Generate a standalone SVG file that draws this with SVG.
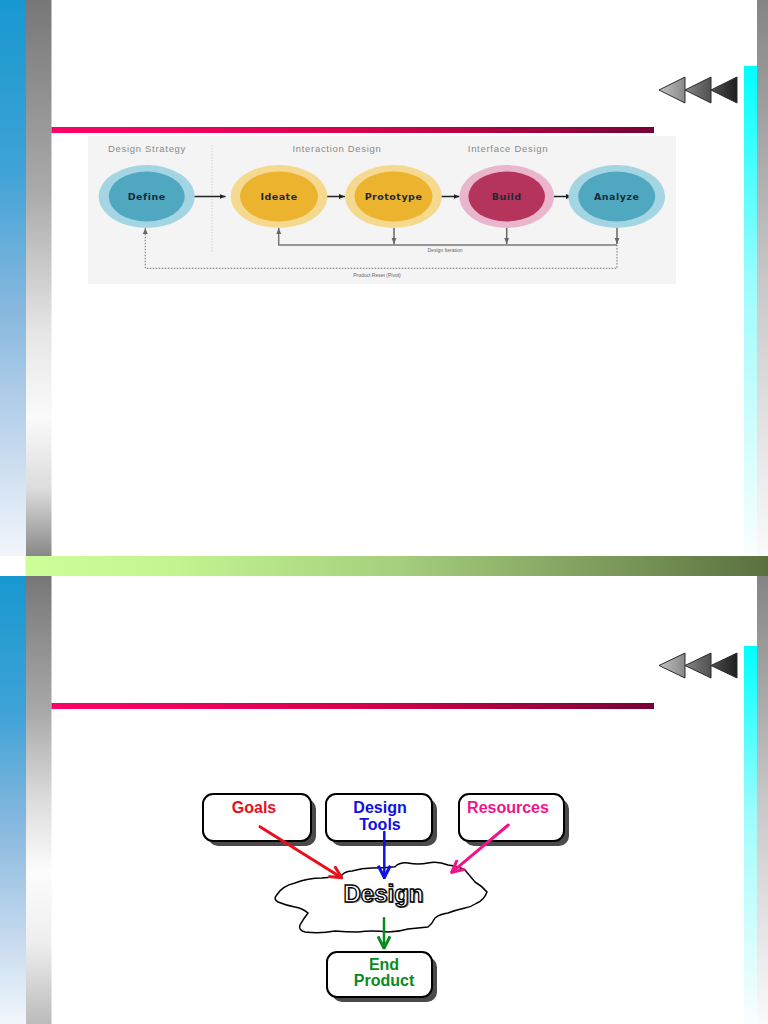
<svg xmlns="http://www.w3.org/2000/svg" width="768" height="1024" viewBox="0 0 768 1024">
<defs>
<linearGradient id="blueV" x1="0" y1="0" x2="0" y2="1">
<stop offset="0" stop-color="#1898d0"/><stop offset="0.3" stop-color="#3ea2d6"/><stop offset="0.55" stop-color="#86b7de"/><stop offset="0.8" stop-color="#c4d8ee"/><stop offset="1" stop-color="#f2f6fb"/>
</linearGradient>
<linearGradient id="grayTop" x1="0" y1="0" x2="0" y2="1">
<stop offset="0" stop-color="#777"/><stop offset="0.35" stop-color="#ababab"/><stop offset="0.6" stop-color="#e6e6e6"/><stop offset="0.75" stop-color="#fafafa"/><stop offset="0.88" stop-color="#dcdcdc"/><stop offset="1" stop-color="#888"/>
</linearGradient>
<linearGradient id="grayBot" x1="0" y1="0" x2="0" y2="1">
<stop offset="0" stop-color="#777"/><stop offset="0.3" stop-color="#a8a8a8"/><stop offset="0.5" stop-color="#dcdcdc"/><stop offset="0.66" stop-color="#fcfcfc"/><stop offset="0.82" stop-color="#eeeeee"/><stop offset="1" stop-color="#bbb"/>
</linearGradient>
<linearGradient id="grayR" x1="0" y1="0" x2="0" y2="1">
<stop offset="0" stop-color="#858585"/><stop offset="0.5" stop-color="#c8c8c8"/><stop offset="1" stop-color="#fafafa"/>
</linearGradient>
<linearGradient id="cyanV" x1="0" y1="0" x2="0" y2="1">
<stop offset="0" stop-color="#00ffff"/><stop offset="0.45" stop-color="#9ffcfc"/><stop offset="1" stop-color="#fafefe"/>
</linearGradient>
<linearGradient id="pinkH" x1="0" y1="0" x2="1" y2="0">
<stop offset="0" stop-color="#ff0066"/><stop offset="0.5" stop-color="#d8004e"/><stop offset="1" stop-color="#780034"/>
</linearGradient>
<linearGradient id="greenH" x1="0" y1="0" x2="1" y2="0">
<stop offset="0" stop-color="#ccff99"/><stop offset="0.2" stop-color="#c2f490"/><stop offset="0.5" stop-color="#a6cf7e"/><stop offset="0.8" stop-color="#7b985a"/><stop offset="1" stop-color="#5a7040"/>
</linearGradient>
<linearGradient id="triG" gradientUnits="userSpaceOnUse" x1="659" y1="0" x2="737" y2="0">
<stop offset="0" stop-color="#c4c4c4"/><stop offset="0.5" stop-color="#6a6a6a"/><stop offset="1" stop-color="#1e1e1e"/>
</linearGradient>
<marker id="ahBlack" viewBox="0 0 10 10" refX="10" refY="5" markerWidth="6" markerHeight="6" markerUnits="userSpaceOnUse" orient="auto"><path d="M0,1 L10,5 L0,9 Z" fill="#222"/></marker>
<marker id="ahGray" viewBox="0 0 10 10" refX="10" refY="5" markerWidth="6" markerHeight="6" markerUnits="userSpaceOnUse" orient="auto"><path d="M0,1 L10,5 L0,9 Z" fill="#666"/></marker>
<marker id="ahRed" viewBox="0 0 14 14" refX="13" refY="7" markerWidth="14" markerHeight="14" markerUnits="userSpaceOnUse" orient="auto"><path d="M1,1 L13,7 L1,13" fill="none" stroke="#e8101c" stroke-width="3"/></marker>
<marker id="ahBlue" viewBox="0 0 14 14" refX="13" refY="7" markerWidth="14" markerHeight="14" markerUnits="userSpaceOnUse" orient="auto"><path d="M1,1 L13,7 L1,13" fill="none" stroke="#1010e0" stroke-width="3"/></marker>
<marker id="ahPink" viewBox="0 0 14 14" refX="13" refY="7" markerWidth="14" markerHeight="14" markerUnits="userSpaceOnUse" orient="auto"><path d="M1,1 L13,7 L1,13" fill="none" stroke="#f0148c" stroke-width="3"/></marker>
<marker id="ahGreen" viewBox="0 0 14 14" refX="13" refY="7" markerWidth="14" markerHeight="14" markerUnits="userSpaceOnUse" orient="auto"><path d="M1,1 L13,7 L1,13" fill="none" stroke="#0a8a1e" stroke-width="3"/></marker>
</defs>
<style>
.sec{font-family:"Liberation Sans",Arial,sans-serif;font-size:9.5px;fill:#8a8a8a;letter-spacing:0.7px;text-anchor:middle}
.node{font-family:"DejaVu Sans","Liberation Sans",sans-serif;font-weight:bold;font-size:9.5px;fill:#1c2a38;text-anchor:middle;letter-spacing:0.5px}
.tiny{font-family:"Liberation Sans",Arial,sans-serif;font-size:5px;fill:#666;text-anchor:middle}
.box{fill:#fff;stroke:#000;stroke-width:2}
.shadow{fill:#4a4a4a}
.lbl{font-family:"Liberation Sans",Arial,sans-serif;font-weight:bold;font-size:16px;text-anchor:middle}
.tri{fill:url(#triG);stroke:#2a2a2a;stroke-width:1}
</style>
<rect width="768" height="1024" fill="#fff"/>

<!-- slide frame top -->
<g id="frame-top">
<rect x="0" y="0" width="26" height="556" fill="url(#blueV)"/>
<rect x="26" y="0" width="25.5" height="556" fill="url(#grayTop)"/>
<rect x="757" y="0" width="11" height="556" fill="url(#grayR)"/>
<rect x="744" y="66" width="13" height="490" fill="url(#cyanV)"/>
<rect x="51.5" y="127" width="602.5" height="6" fill="url(#pinkH)"/>
<polygon class="tri" points="659,90 685,77 685,103"/>
<polygon class="tri" points="685,90 711,77 711,103"/>
<polygon class="tri" points="711,90 737,77 737,103"/>
</g>

<!-- divider -->
<rect id="green-bar" x="25.5" y="556" width="742.5" height="20" fill="url(#greenH)"/>

<!-- slide frame bottom -->
<g id="frame-bottom">
<rect x="0" y="576" width="26" height="448" fill="url(#blueV)"/>
<rect x="26" y="576" width="25.5" height="448" fill="url(#grayBot)"/>
<rect x="757" y="576" width="11" height="448" fill="url(#grayR)"/>
<rect x="744" y="646" width="13" height="378" fill="url(#cyanV)"/>
<rect x="51.5" y="703" width="602.5" height="6" fill="url(#pinkH)"/>
<polygon class="tri" points="659,665.5 685,653 685,678"/>
<polygon class="tri" points="685,665.5 711,653 711,678"/>
<polygon class="tri" points="711,665.5 737,653 737,678"/>
</g>

<!-- top process diagram -->
<g id="process">
<rect x="88" y="136" width="588" height="148" fill="#f4f4f4"/>
<text class="sec" x="147" y="152">Design Strategy</text>
<text class="sec" x="337" y="152">Interaction Design</text>
<text class="sec" x="508" y="152">Interface Design</text>
<line x1="212" y1="145" x2="212" y2="253" stroke="#cfcfcf" stroke-width="1" stroke-dasharray="1.5,1.5"/>
</g>
<g id="connectors-top" fill="none">
<line x1="185" y1="196.5" x2="225.5" y2="196.5" stroke="#222" stroke-width="1.5" marker-end="url(#ahBlack)"/>
<line x1="317" y1="196.5" x2="345" y2="196.5" stroke="#222" stroke-width="1.5" marker-end="url(#ahBlack)"/>
<line x1="433" y1="196.5" x2="459.5" y2="196.5" stroke="#222" stroke-width="1.5" marker-end="url(#ahBlack)"/>
<line x1="545" y1="196.5" x2="572" y2="196.5" stroke="#222" stroke-width="1.5" marker-end="url(#ahBlack)"/>
<line x1="394" y1="228" x2="394" y2="244" stroke="#666" stroke-width="1.5" marker-end="url(#ahGray)"/>
<line x1="506.7" y1="228" x2="506.7" y2="244" stroke="#666" stroke-width="1.5" marker-end="url(#ahGray)"/>
<line x1="617" y1="228" x2="617" y2="244" stroke="#666" stroke-width="1.5" marker-end="url(#ahGray)"/>
<path d="M617,245 H278.7 V228" stroke="#777" stroke-width="1.5" marker-end="url(#ahGray)"/>
<path d="M617,245 V268.3 H145.3 V228" stroke="#888" stroke-width="1.2" stroke-dasharray="1.5,1.5" marker-end="url(#ahGray)"/>
<text class="tiny" x="445" y="252">Design Iteration</text>
<text class="tiny" x="377" y="277">Product Reset (Pivot)</text>
</g>
<g id="node-define">
<ellipse cx="146.7" cy="196.5" rx="48" ry="31.5" fill="#a4d5e2"/>
<ellipse cx="146.7" cy="196.5" rx="38" ry="25" fill="#4fa8bf"/>
<text class="node" x="146.7" y="200">Define</text>
</g>
<g id="node-ideate">
<ellipse cx="279" cy="196.5" rx="48.3" ry="31.5" fill="#f4d98f"/>
<ellipse cx="279" cy="196.5" rx="39" ry="25" fill="#ecb32f"/>
<text class="node" x="279" y="200">Ideate</text>
</g>
<g id="node-prototype">
<ellipse cx="393.5" cy="196.5" rx="48.3" ry="31.5" fill="#f4d98f"/>
<ellipse cx="393.5" cy="196.5" rx="39" ry="25" fill="#ecb32f"/>
<text class="node" x="393.5" y="200">Prototype</text>
</g>
<g id="node-build">
<ellipse cx="506.7" cy="196.5" rx="47.3" ry="31.5" fill="#e9b6cd"/>
<ellipse cx="506.7" cy="196.5" rx="38.3" ry="25" fill="#b5345b"/>
<text class="node" x="506.7" y="200">Build</text>
</g>
<g id="node-analyze">
<ellipse cx="616.7" cy="196.5" rx="48.3" ry="31.5" fill="#a4d5e2"/>
<ellipse cx="616.7" cy="196.5" rx="38.5" ry="25" fill="#4fa8bf"/>
<text class="node" x="616.7" y="200">Analyze</text>
</g>

<!-- bottom design diagram -->
<g id="node-goals">
<rect class="shadow" x="208" y="799" width="108" height="47" rx="10"/>
<rect class="box" x="203" y="794" width="108" height="47" rx="10"/>
<text class="lbl" x="254" y="813" fill="#e8101c">Goals</text>
</g>
<g id="node-tools">
<rect class="shadow" x="331" y="799" width="106" height="47" rx="10"/>
<rect class="box" x="326" y="794" width="106" height="47" rx="10"/>
<text class="lbl" x="380" y="813" fill="#1010e0">Design</text>
<text class="lbl" x="380" y="830" fill="#1010e0">Tools</text>
</g>
<g id="node-resources">
<rect class="shadow" x="464" y="799" width="105" height="47" rx="10"/>
<rect class="box" x="459" y="794" width="105" height="47" rx="10"/>
<text class="lbl" x="508" y="813" fill="#f0148c">Resources</text>
</g>
<g id="node-end">
<rect class="shadow" x="332" y="957" width="105" height="45" rx="10"/>
<rect class="box" x="327" y="952" width="105" height="45" rx="10"/>
<text class="lbl" x="384" y="970" fill="#0a8a1e">End</text>
<text class="lbl" x="384" y="986" fill="#0a8a1e">Product</text>
</g>
<g id="node-design">
<path d="M276.7,895 Q282,886 295,883 Q308,878 322,878 Q334,877 342,875 Q346,871 352,871 Q362,868 372,868 Q384,868 395,866.7 Q400,862 408,863 Q418,865 428,863 Q438,861 448,865 Q458,866 465,870 Q470,876 475,882 Q482,886 487,892 Q484,900 477,903 Q471,907 465,908 Q456,910 448,913 Q440,914 435,918 Q432,924 428,927 Q418,928 408,929 Q398,932 388,932 Q372,930 358,932 Q346,932 335,931 Q320,934 305,932 Q298,930 300,925 Q304,918 308,913 Q302,908 295,907 Q285,905 278,902 Q273,899 276.7,895 Z" fill="#fff" stroke="#000" stroke-width="1.5"/>
<text x="385" y="903" font-family="Liberation Sans,Arial,sans-serif" font-weight="bold" font-size="24" text-anchor="middle" fill="#888">Design</text>
<text x="383.5" y="901.5" font-family="Liberation Sans,Arial,sans-serif" font-weight="bold" font-size="24" text-anchor="middle" fill="#fff" stroke="#000" stroke-width="1.3">Design</text>
</g>
<g id="connectors-bottom" fill="none" stroke-linecap="round">
<line x1="260" y1="826.7" x2="341.7" y2="877.7" stroke="#e8101c" stroke-width="3" marker-end="url(#ahRed)"/>
<line x1="384.3" y1="832" x2="384.3" y2="877.7" stroke="#1010e0" stroke-width="2.5" marker-end="url(#ahBlue)"/>
<line x1="508.3" y1="825" x2="451.7" y2="872.3" stroke="#f0148c" stroke-width="3" marker-end="url(#ahPink)"/>
<line x1="384" y1="918.3" x2="384" y2="948.3" stroke="#0a8a1e" stroke-width="2.5" marker-end="url(#ahGreen)"/>
</g>
</svg>
